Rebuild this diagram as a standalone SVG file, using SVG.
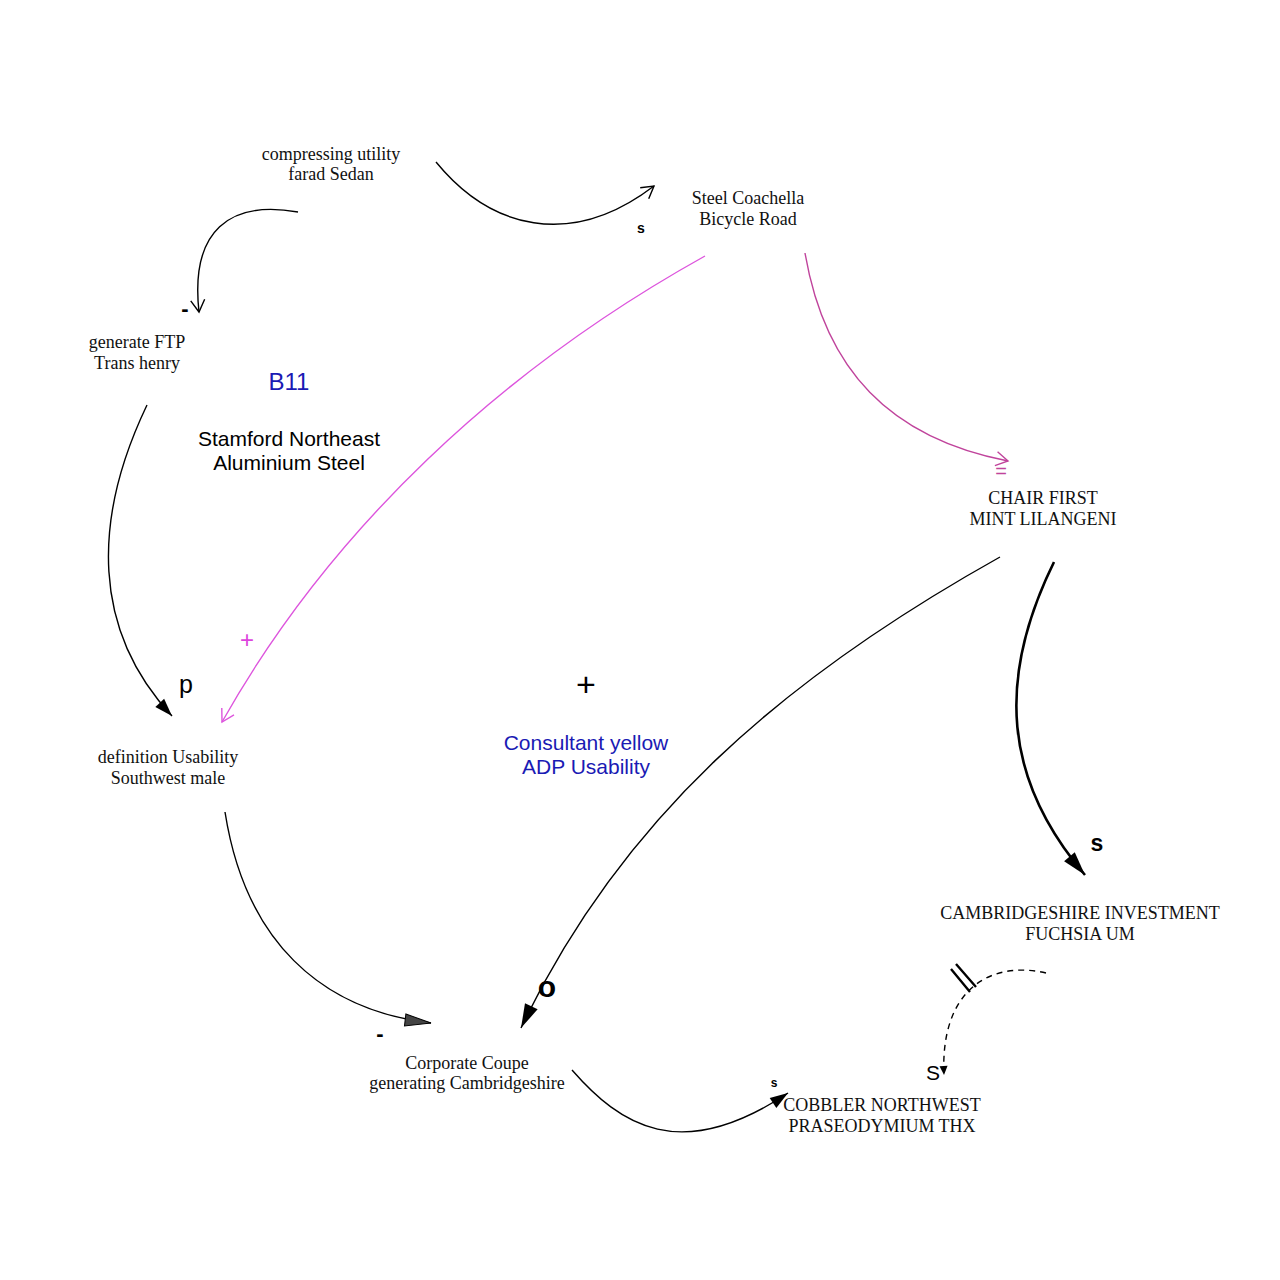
<svg xmlns="http://www.w3.org/2000/svg" width="1280" height="1280" viewBox="0 0 1280 1280">
<style>
.node{font-family:"Liberation Serif",serif;font-size:18px;fill:#111;text-anchor:middle}
.lbl{font-family:"Liberation Sans",sans-serif;text-anchor:middle}
.e{fill:none;stroke:#000;stroke-width:1.4}
</style>
<defs>
<marker id="open" markerUnits="userSpaceOnUse" markerWidth="20" markerHeight="20" viewBox="0 0 20 20" refX="16" refY="10" orient="auto">
<path d="M4,3 L16,10 L4,17" fill="none" stroke="#000" stroke-width="1.4"/>
</marker>
<marker id="openM" markerUnits="userSpaceOnUse" markerWidth="20" markerHeight="20" viewBox="0 0 20 20" refX="16" refY="10" orient="auto">
<path d="M4,3 L16,10 L4,17" fill="none" stroke="#dd55dd" stroke-width="1.4"/>
</marker>
<marker id="openP" markerUnits="userSpaceOnUse" markerWidth="20" markerHeight="20" viewBox="0 0 20 20" refX="16" refY="10" orient="auto">
<path d="M4,3 L16,10 L4,17" fill="none" stroke="#c0449c" stroke-width="1.4"/>
</marker>
<marker id="fill" markerUnits="userSpaceOnUse" markerWidth="24" markerHeight="24" viewBox="0 0 24 24" refX="20" refY="12" orient="auto">
<path d="M2,6 L20,12 L2,18 z" fill="#000"/>
</marker>
<marker id="fillBig" markerUnits="userSpaceOnUse" markerWidth="30" markerHeight="30" viewBox="0 0 30 30" refX="26" refY="15" orient="auto">
<path d="M2,8 L26,15 L2,22 z" fill="#000"/>
</marker>
<marker id="fillGrey" markerUnits="userSpaceOnUse" markerWidth="34" markerHeight="34" viewBox="0 0 34 34" refX="28" refY="17" orient="auto">
<path d="M2,11 L28,17 L2,23 z" fill="#444" stroke="#000" stroke-width="1"/>
</marker>
<marker id="small" markerUnits="userSpaceOnUse" markerWidth="14" markerHeight="14" viewBox="0 0 14 14" refX="11" refY="7" orient="auto">
<path d="M2,3 L11,7 L2,11 z" fill="#000"/>
</marker>
</defs>

<g id="connectors">
<path class="e" d="M436,162 C490,228 570,250 654,186" marker-end="url(#open)"/>
<text class="lbl" x="641" y="233" font-size="14" font-weight="bold">s</text>

<path class="e" d="M298,212 C230,200 190,230 199,312" marker-end="url(#open)"/>
<text class="lbl" x="185" y="316" font-size="22" font-weight="bold">-</text>

<path d="M805,253 C825,370 890,438 1008,461" fill="none" stroke="#c0449c" stroke-width="1.4" marker-end="url(#openP)"/>
<text class="lbl" x="1001" y="478" font-size="20" fill="#c0449c">=</text>

<path d="M705,256 C500,370 330,530 222,722" fill="none" stroke="#dd55dd" stroke-width="1.4" marker-end="url(#openM)"/>
<text class="lbl" x="247" y="648" font-size="24" fill="#dd44dd">+</text>

<path class="e" d="M147,405 C92,520 92,630 172,716" marker-end="url(#fill)"/>
<text class="lbl" x="186" y="693" font-size="25">p</text>

<path class="e" d="M1000,557 C780,680 620,820 521,1028" marker-end="url(#fillBig)"/>
<text class="lbl" x="547" y="997" font-size="30" font-weight="bold">o</text>

<path d="M1054,562 C996,680 1004,780 1085,875" fill="none" stroke="#000" stroke-width="2.6" marker-end="url(#fillBig)"/>
<text class="lbl" x="1097" y="851" font-size="23" font-weight="bold">s</text>

<path class="e" d="M225,812 C245,940 320,1010 431,1023" marker-end="url(#fillGrey)"/>
<text class="lbl" x="380" y="1041" font-size="22" font-weight="bold">-</text>

<path class="e" d="M572,1070 C620,1125 680,1165 788,1093" marker-end="url(#fill)"/>
<text class="lbl" x="774" y="1087" font-size="12" font-weight="bold">s</text>

<path d="M1046,973 C990,960 940,990 944,1075" fill="none" stroke="#000" stroke-width="1.4" stroke-dasharray="6,5" marker-end="url(#small)"/>
<path d="M951,969 L970,992 M956,964 L976,987" stroke="#000" stroke-width="2.4"/>
<text class="lbl" x="933" y="1080" font-size="21">S</text>
</g>

<g id="compressing"><text class="node" x="331" y="160">compressing utility</text><text class="node" x="331" y="180">farad Sedan</text></g>
<g id="steel"><text class="node" x="748" y="204">Steel Coachella</text><text class="node" x="748" y="225">Bicycle Road</text></g>
<g id="generate"><text class="node" x="137" y="348">generate FTP</text><text class="node" x="137" y="369">Trans henry</text></g>
<g id="chair"><text class="node" x="1043" y="504">CHAIR FIRST</text><text class="node" x="1043" y="525">MINT LILANGENI</text></g>
<g id="definition"><text class="node" x="168" y="763">definition Usability</text><text class="node" x="168" y="784">Southwest male</text></g>
<g id="cambridgeshire"><text class="node" x="1080" y="919">CAMBRIDGESHIRE INVESTMENT</text><text class="node" x="1080" y="940">FUCHSIA UM</text></g>
<g id="corporate"><text class="node" x="467" y="1069">Corporate Coupe</text><text class="node" x="467" y="1089">generating Cambridgeshire</text></g>
<g id="cobbler"><text class="node" x="882" y="1111">COBBLER NORTHWEST</text><text class="node" x="882" y="1132">PRASEODYMIUM THX</text></g>

<g id="loop-b11">
<text class="lbl" x="289" y="390" font-size="24" fill="#1a1ab4">B11</text>
<text class="lbl" x="289" y="446" font-size="21" fill="#000">Stamford Northeast</text>
<text class="lbl" x="289" y="470" font-size="21" fill="#000">Aluminium Steel</text>
</g>
<g id="loop-plus">
<text class="lbl" x="586" y="696" font-size="34" fill="#000">+</text>
<text class="lbl" x="586" y="750" font-size="21" fill="#1a1ab4">Consultant yellow</text>
<text class="lbl" x="586" y="774" font-size="21" fill="#1a1ab4">ADP Usability</text>
</g>
</svg>
